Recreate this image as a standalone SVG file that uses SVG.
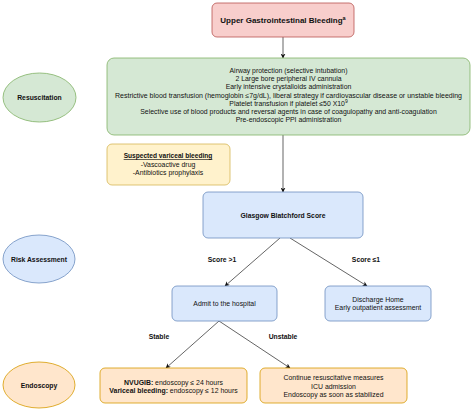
<svg xmlns="http://www.w3.org/2000/svg" width="474" height="411" viewBox="0 0 474 411">
<defs>
<marker id="ah" viewBox="0 0 10 10" refX="9" refY="5" markerWidth="5" markerHeight="5" orient="auto" markerUnits="userSpaceOnUse">
<path d="M0,0 L10,5 L0,10 L3,5 Z" fill="#111"/>
</marker>
<style>
text{font-family:"Liberation Sans",Arial,sans-serif;fill:#111;text-anchor:middle}
.r{font-size:6.9px}
.b{font-size:6.8px;font-weight:bold}
.red{fill:#f8cecc;stroke:#b85450;stroke-width:0.8}
.grn{fill:#d5e8d4;stroke:#82b366;stroke-width:0.8}
.yel{fill:#fff2cc;stroke:#d6b656;stroke-width:0.8}
.blu{fill:#dae8fc;stroke:#6c8ebf;stroke-width:0.8}
.org{fill:#ffe6cc;stroke:#d79b00;stroke-width:0.8}
.c{stroke:#222;stroke-width:0.7;fill:none;marker-end:url(#ah)}
</style>
</defs>
<rect width="474" height="411" fill="#fff"/>
<g id="connectors">
<line class="c" x1="283" y1="37" x2="283" y2="58"/>
<line class="c" x1="283" y1="135" x2="283" y2="192"/>
<line class="c" x1="280" y1="238" x2="225" y2="286"/>
<line class="c" x1="290" y1="238" x2="367" y2="286"/>
<line class="c" x1="219" y1="321" x2="166" y2="368"/>
<line class="c" x1="219" y1="321" x2="290" y2="368"/>
<text class="b" x="222" y="262">Score &gt;1</text>
<text class="b" x="366" y="262">Score ≤1</text>
<text class="b" x="159" y="339">Stable</text>
<text class="b" x="283" y="339">Unstable</text>
</g>
<g id="title">
<rect class="red" x="212" y="3" width="142" height="34" rx="5"/>
<text x="283" y="23" style="font-size:8px;font-weight:bold">Upper Gastrointestinal Bleeding<tspan dy="-3" style="font-size:5.5px">a</tspan></text>
</g>
<g id="resuscitation-label">
<ellipse class="grn" cx="39.5" cy="97.5" rx="36.5" ry="24.5"/>
<text class="b" x="39.5" y="100">Resuscitation</text>
</g>
<g id="resuscitation">
<rect class="grn" x="107" y="58" width="363" height="77" rx="7"/>
<text class="r" x="288.5" y="73">Airway protection (selective intubation)</text>
<text class="r" x="288.5" y="81.2">2 Large bore peripheral IV cannula</text>
<text class="r" x="288.5" y="89.4">Early intensive crystalloids administration</text>
<text class="r" x="288.5" y="97.6" style="font-size:7px">Restrictive blood transfusion (hemoglobin ≤7g/dL), liberal strategy if cardiovascular disease or unstable bleeding</text>
<text class="r" x="288.5" y="105.8">Platelet transfusion if platelet ≤50 X10<tspan dy="-2.5" style="font-size:5px">9</tspan></text>
<text class="r" x="288.5" y="114">Selective use of blood products and reversal agents in case of coagulopathy and anti-coagulation</text>
<text class="r" x="288.5" y="122.2">Pre-endoscopic PPI administration</text>
</g>
<g id="variceal">
<rect class="yel" x="107" y="144" width="123" height="41" rx="5"/>
<text class="b" x="168" y="158" text-decoration="underline" style="font-size:6.6px">Suspected variceal bleeding</text>
<text class="r" x="168" y="167">-Vascoactive drug</text>
<text class="r" x="168" y="175">-Antibiotics prophylaxis</text>
</g>
<g id="risk-label">
<ellipse class="blu" cx="39" cy="259" rx="36" ry="24"/>
<text class="b" x="39" y="261.5">Risk Assessment</text>
</g>
<g id="glasgow">
<rect class="blu" x="203" y="192" width="160" height="46" rx="5"/>
<text class="b" x="283" y="217.5">Glasgow Blatchford Score</text>
</g>
<g id="admit">
<rect class="blu" x="172" y="286" width="105" height="35" rx="5"/>
<text class="r" x="224.5" y="306">Admit to the hospital</text>
</g>
<g id="discharge">
<rect class="blu" x="325" y="286" width="106" height="35" rx="5"/>
<text class="r" x="378" y="301.5">Discharge Home</text>
<text class="r" x="378" y="310">Early outpatient assessment</text>
</g>
<g id="endoscopy-label">
<ellipse class="org" cx="39" cy="385" rx="36" ry="23"/>
<text class="b" x="39" y="387.5">Endoscopy</text>
</g>
<g id="stable">
<rect class="org" x="100" y="368" width="147" height="35" rx="5"/>
<text class="r" x="173.5" y="384.5"><tspan font-weight="bold">NVUGIB:</tspan> endoscopy ≤ 24 hours</text>
<text class="r" x="173.5" y="393"><tspan font-weight="bold">Variceal bleeding:</tspan> endoscopy ≤ 12 hours</text>
</g>
<g id="unstable">
<rect class="org" x="260" y="368" width="147" height="35" rx="5"/>
<text class="r" x="333.5" y="380">Continue resuscitative measures</text>
<text class="r" x="333.5" y="388.5">ICU admission</text>
<text class="r" x="333.5" y="397">Endoscopy as soon as stabilized</text>
</g>
</svg>
